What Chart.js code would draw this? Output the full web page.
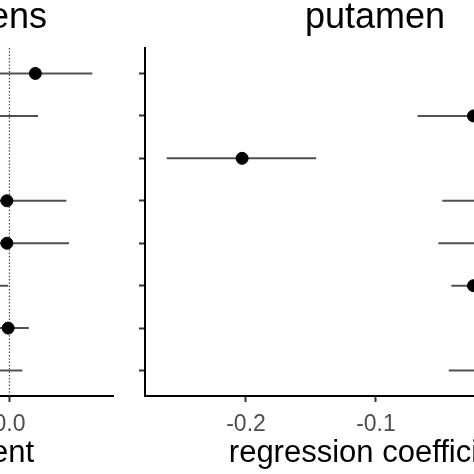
<!DOCTYPE html>
<html><head><meta charset="utf-8">
<script src="https://cdn.jsdelivr.net/npm/chart.js@4/dist/chart.umd.min.js"></script>
<style>
html,body{margin:0;padding:0;background:#fff;overflow:hidden}
#wrap{position:relative;width:474px;height:474px;overflow:hidden;background:#fff}
canvas{position:absolute;top:0}
#c1{left:-400px}
#c2{left:0}
</style></head><body>
<div id="wrap"><canvas id="c1" width="520" height="474"></canvas><canvas id="c2" width="640" height="474"></canvas></div>
<script>
// rows (top to bottom)
const rows = [1, 2, 3, 4, 5, 6, 7, 8];
const xTicks = [-0.2, -0.1, 0.0];
const panelTitles = ["nucleus accumbens", "putamen"];
const xTitle = "regression coefficient";

// nucleus accumbens panel
const accEst = [0.020, -0.020, -0.180, -0.002, -0.002, -0.035, -0.001, -0.020];
const accLo  = [-0.024, -0.062, -0.252, -0.048, -0.050, -0.069, -0.017, -0.050];
const accHi  = [0.064, 0.022, -0.108, 0.044, 0.046, -0.001, 0.015, 0.010];

// putamen panel
const putEst = [0.020, -0.025, -0.203, 0.002, 0.000, -0.025, 0.015, -0.008];
const putLo  = [-0.012, -0.068, -0.261, -0.049, -0.052, -0.042, -0.018, -0.044];
const putHi  = [0.052, 0.018, -0.146, 0.057, 0.052, -0.008, 0.048, 0.028];

const FONT = "'Liberation Sans', Arial, Helvetica, sans-serif";

function makeChart(id, est, lo, hi, xmin, xmax, title, padL, padR, zeroLine) {
  const datasets = [];
  datasets.push({
    type: 'scatter',
    data: rows.map((r, i) => ({x: est[i], y: r})),
    backgroundColor: '#000', borderColor: '#000',
    pointRadius: 6, pointHoverRadius: 6, order: 0
  });
  rows.forEach((r, i) => {
    datasets.push({
      type: 'line',
      data: [{x: lo[i], y: r}, {x: hi[i], y: r}],
      borderColor: '#505050', borderWidth: 2, pointRadius: 0, order: 1
    });
  });
  if (zeroLine) {
    datasets.push({
      type: 'line',
      data: [{x: 0, y: 0.4}, {x: 0, y: 8.6}],
      borderColor: '#555', borderWidth: 1.3, borderDash: [1.5, 1.8],
      pointRadius: 0, order: 2
    });
  }
  return new Chart(document.getElementById(id), {
    type: 'scatter',
    data: {datasets},
    options: {
      responsive: false, animation: false, events: [],
      layout: {padding: {left: padL, right: padR, top: 0, bottom: 0}},
      plugins: {
        legend: {display: false}, tooltip: {enabled: false},
        title: {
          display: true, text: title, fullSize: false, color: '#000',
          font: {family: FONT, size: 36, weight: 'normal', lineHeight: 0.85},
          padding: {top: 3, bottom: 14.4}
        }
      },
      scales: {
        x: {
          type: 'linear', min: xmin, max: xmax,
          afterBuildTicks: s => { s.ticks = xTicks.map(v => ({value: v})); },
          afterFit: s => { s.height = 78; },
          ticks: {
            callback: v => v.toFixed(1), color: '#4d4d4d',
            font: {family: FONT, size: 23}, padding: 9, maxRotation: 0
          },
          grid: {drawOnChartArea: false, drawTicks: true, tickLength: 6, tickColor: '#333', tickWidth: 2},
          border: {display: true, color: '#000', width: 2},
          title: {
            display: true, text: xTitle, color: '#000',
            font: {family: FONT, size: 31, lineHeight: 1.2},
            padding: {top: 0, bottom: 2.1}
          }
        },
        y: {
          type: 'linear', min: 0.4, max: 8.6, reverse: true,
          afterBuildTicks: s => { s.ticks = rows.map(v => ({value: v})); },
          afterFit: s => { s.width = 6; },
          ticks: {display: false},
          grid: {drawOnChartArea: false, drawTicks: true, tickLength: 6, tickColor: '#333', tickWidth: 2},
          border: {display: true, color: '#000', width: 2}
        }
      }
    }
  });
}

makeChart('c1', accEst, accLo, accHi, -0.2677, 0.08, panelTitles[0], 57, 5, true);
makeChart('c2', putEst, putLo, putHi, -0.2777, 0.0762, panelTitles[1], 139, 35, false);
</script>
</body></html>
